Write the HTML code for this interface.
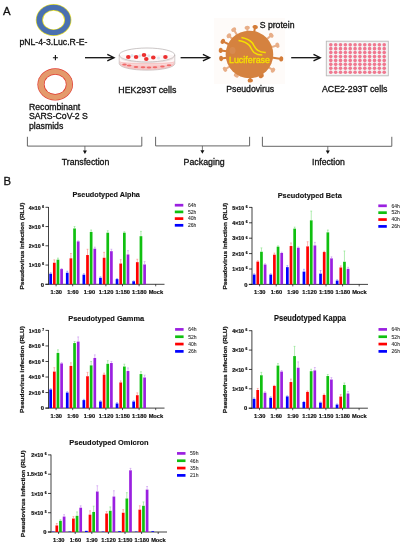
<!DOCTYPE html>
<html><head><meta charset="utf-8"><style>
html,body{margin:0;padding:0;background:#fff;}
body{width:403px;height:550px;overflow:hidden;}
svg{display:block;font-family:"Liberation Sans", sans-serif;will-change:transform;}
text{stroke-width:0.22px;}
</style></head><body>
<svg width="403" height="550" viewBox="0 0 403 550">
<rect width="403" height="550" fill="#fff"/>
<text x="3.00" y="14.90" font-size="11.4" font-weight="normal" fill="#111" stroke="#111" text-anchor="start" style="stroke-width:0.3px">A</text>
<ellipse cx="53.6" cy="20.0" rx="17.85" ry="16" fill="#e8e030"/>
<ellipse cx="53.6" cy="20.0" rx="17.1" ry="15.3" fill="#4a70b0"/>
<ellipse cx="53.6" cy="20.0" rx="11.4" ry="10.0" fill="#ebe22a"/>
<ellipse cx="53.6" cy="20.0" rx="10.6" ry="9.2" fill="#ffffff"/>
<text x="19.40" y="44.70" font-size="8.7" font-weight="normal" fill="#111" stroke="#111" text-anchor="start" style="stroke-width:0.3px">pNL-4-3.Luc.R-E-</text>
<path d="M52.9,57.7 H57.9 M55.4,55.1 V60.3" stroke="#111" stroke-width="1.1"/>
<ellipse cx="55.2" cy="84.4" rx="17.8" ry="16.2" fill="#e03a30"/>
<ellipse cx="55.2" cy="84.4" rx="17.1" ry="15.5" fill="#e49a6c"/>
<ellipse cx="55.2" cy="84.4" rx="11.3" ry="10.3" fill="#e03a30"/>
<ellipse cx="55.2" cy="84.4" rx="10.6" ry="9.6" fill="#ffffff"/>
<text x="29.00" y="109.80" font-size="8.7" font-weight="normal" fill="#111" stroke="#111" text-anchor="start" style="stroke-width:0.3px">Recombinant</text>
<text x="29.00" y="119.40" font-size="8.7" font-weight="normal" fill="#111" stroke="#111" text-anchor="start" style="stroke-width:0.3px">SARS-CoV-2 S</text>
<text x="29.00" y="128.50" font-size="8.7" font-weight="normal" fill="#111" stroke="#111" text-anchor="start" style="stroke-width:0.3px">plasmids</text>
<line x1="85" y1="57.7" x2="113.3" y2="57.7" stroke="#111" stroke-width="1.3"/>
<polyline points="107.3,54.300000000000004 114.1,57.7 107.3,60.900000000000006" fill="none" stroke="#111" stroke-width="1.3"/>
<line x1="180.6" y1="57.7" x2="208.89999999999998" y2="57.7" stroke="#111" stroke-width="1.3"/>
<polyline points="202.89999999999998,54.300000000000004 209.7,57.7 202.89999999999998,60.900000000000006" fill="none" stroke="#111" stroke-width="1.3"/>
<line x1="291.2" y1="57.7" x2="319.5" y2="57.7" stroke="#111" stroke-width="1.3"/>
<polyline points="313.5,54.300000000000004 320.3,57.7 313.5,60.900000000000006" fill="none" stroke="#111" stroke-width="1.3"/>
<path d="M119.2,55.0 L119.2,63.6 A27.8,6.6 0 0 0 174.8,63.6 L174.8,55.0 Z" fill="#fdf7f7"/>
<path d="M119.6,61.3 A27.4,1.8 0 0 0 174.4,61.3 L174.4,63.6 A27.4,6.4 0 0 1 119.6,63.6 Z" fill="#f7c6c6"/>
<path d="M120.5,62.8 A26.5,2.2 0 0 0 173.5,62.8" fill="none" stroke="#fbe6e6" stroke-width="0.7"/>
<ellipse cx="124.5" cy="64.5" rx="2.3" ry="1.0" fill="#ee4a4a" opacity="0.75"/>
<ellipse cx="129.2" cy="65.6" rx="2.3" ry="1.0" fill="#ee4a4a" opacity="0.75"/>
<ellipse cx="136" cy="66.9" rx="2.3" ry="1.0" fill="#ee4a4a" opacity="0.75"/>
<ellipse cx="143" cy="67.3" rx="2.3" ry="1.0" fill="#ee4a4a" opacity="0.75"/>
<ellipse cx="149" cy="67.4" rx="2.3" ry="1.0" fill="#ee4a4a" opacity="0.75"/>
<ellipse cx="155" cy="67.3" rx="2.3" ry="1.0" fill="#ee4a4a" opacity="0.75"/>
<ellipse cx="162.4" cy="66.6" rx="2.3" ry="1.0" fill="#ee4a4a" opacity="0.75"/>
<ellipse cx="169" cy="65.2" rx="2.3" ry="1.0" fill="#ee4a4a" opacity="0.75"/>
<path d="M119.2,55.0 L119.2,63.6 A27.8,6.6 0 0 0 174.8,63.6 L174.8,55.0" fill="none" stroke="#b0a4a4" stroke-width="0.55"/>
<ellipse cx="147" cy="55.0" rx="27.8" ry="7.0" fill="none" stroke="#a8a0a0" stroke-width="0.6"/>
<path d="M120.5,57.5 A26.5,5.0 0 0 0 173.5,57.5" fill="none" stroke="#d8c8c8" stroke-width="0.5"/>
<circle cx="148.9" cy="55.7" r="1.5" fill="#dde6ee"/>
<circle cx="158.5" cy="57.9" r="1.5" fill="#dde6ee"/>
<circle cx="139.8" cy="55.8" r="1.5" fill="#dde6ee"/>
<circle cx="132" cy="55.5" r="1.5" fill="#dde6ee"/>
<ellipse cx="128.3" cy="57.0" rx="2.3" ry="2.0" fill="#ec3030"/>
<ellipse cx="136.1" cy="57.0" rx="2.3" ry="2.0" fill="#ec3030"/>
<ellipse cx="144.0" cy="54.9" rx="2.3" ry="2.0" fill="#ec3030"/>
<ellipse cx="146.3" cy="59.0" rx="2.3" ry="2.0" fill="#ec3030"/>
<ellipse cx="153.3" cy="57.4" rx="2.3" ry="2.0" fill="#ec3030"/>
<ellipse cx="165.4" cy="57.0" rx="2.3" ry="2.0" fill="#ec3030"/>
<rect x="214" y="18" width="71" height="66" fill="#fefbf9"/>
<line x1="238.32" y1="36.88" x2="233.70" y2="29.60" stroke="#e8ae88" stroke-width="2.0"/>
<ellipse cx="233.70" cy="29.60" rx="2.0" ry="2.7" fill="#e8ae88" transform="rotate(-122.4 233.70 29.60)"/>
<line x1="234.08" y1="40.43" x2="228.90" y2="35.70" stroke="#e8ae88" stroke-width="2.0"/>
<ellipse cx="228.90" cy="35.70" rx="2.0" ry="2.7" fill="#e8ae88" transform="rotate(-137.6 228.90 35.70)"/>
<line x1="230.80" y1="45.25" x2="222.80" y2="41.30" stroke="#d47c38" stroke-width="2.0"/>
<ellipse cx="222.80" cy="41.30" rx="2.0" ry="2.7" fill="#d47c38" transform="rotate(-153.7 222.80 41.30)"/>
<line x1="228.85" y1="51.55" x2="220.70" y2="50.40" stroke="#d47c38" stroke-width="2.0"/>
<ellipse cx="220.70" cy="50.40" rx="2.0" ry="2.7" fill="#d47c38" transform="rotate(-172.0 220.70 50.40)"/>
<line x1="247.70" y1="33.72" x2="247.20" y2="27.80" stroke="#e8ae88" stroke-width="2.0"/>
<ellipse cx="247.20" cy="27.80" rx="2.0" ry="2.7" fill="#e8ae88" transform="rotate(-94.8 247.20 27.80)"/>
<line x1="253.71" y1="34.09" x2="255.20" y2="27.00" stroke="#d47c38" stroke-width="2.0"/>
<ellipse cx="255.20" cy="27.00" rx="2.0" ry="2.7" fill="#d47c38" transform="rotate(-78.2 255.20 27.00)"/>
<line x1="265.06" y1="40.70" x2="271.30" y2="35.20" stroke="#e8ae88" stroke-width="2.0"/>
<ellipse cx="271.30" cy="35.20" rx="2.0" ry="2.7" fill="#e8ae88" transform="rotate(-41.4 271.30 35.20)"/>
<line x1="269.20" y1="47.91" x2="277.40" y2="45.20" stroke="#e8ae88" stroke-width="2.0"/>
<ellipse cx="277.40" cy="45.20" rx="2.0" ry="2.7" fill="#e8ae88" transform="rotate(-18.3 277.40 45.20)"/>
<line x1="228.86" y1="57.39" x2="221.10" y2="58.50" stroke="#d47c38" stroke-width="2.0"/>
<ellipse cx="221.10" cy="58.50" rx="2.0" ry="2.7" fill="#d47c38" transform="rotate(171.9 221.10 58.50)"/>
<line x1="231.67" y1="65.25" x2="225.00" y2="69.30" stroke="#e8ae88" stroke-width="2.0"/>
<ellipse cx="225.00" cy="69.30" rx="2.0" ry="2.7" fill="#e8ae88" transform="rotate(148.7 225.00 69.30)"/>
<line x1="238.39" y1="72.07" x2="236.30" y2="75.40" stroke="#e8ae88" stroke-width="2.0"/>
<ellipse cx="236.30" cy="75.40" rx="2.0" ry="2.7" fill="#e8ae88" transform="rotate(122.1 236.30 75.40)"/>
<line x1="250.13" y1="75.24" x2="250.30" y2="80.60" stroke="#d47c38" stroke-width="2.0"/>
<ellipse cx="250.30" cy="80.60" rx="2.0" ry="2.7" fill="#d47c38" transform="rotate(88.1 250.30 80.60)"/>
<line x1="259.51" y1="72.66" x2="261.30" y2="75.90" stroke="#d47c38" stroke-width="2.0"/>
<ellipse cx="261.30" cy="75.90" rx="2.0" ry="2.7" fill="#d47c38" transform="rotate(61.1 261.30 75.90)"/>
<line x1="266.74" y1="66.01" x2="273.00" y2="70.20" stroke="#e8ae88" stroke-width="2.0"/>
<ellipse cx="273.00" cy="70.20" rx="2.0" ry="2.7" fill="#e8ae88" transform="rotate(33.8 273.00 70.20)"/>
<line x1="270.05" y1="57.33" x2="281.30" y2="58.90" stroke="#d47c38" stroke-width="2.0"/>
<ellipse cx="281.30" cy="58.90" rx="2.0" ry="2.7" fill="#d47c38" transform="rotate(8.0 281.30 58.90)"/>
<circle cx="249.45" cy="54.45" r="23.8" fill="#d5823f"/>
<ellipse cx="232.5" cy="50.5" rx="3" ry="3.6" fill="#dc9a6c" opacity="0.35"/>
<path d="M241.4,37.5 C246,38.3 250,40 252.4,43 C254,45.5 255,48.5 257.8,50.4 C260,52 263,52.5 265.8,52.4" fill="none" stroke="#f5e000" stroke-width="1.5"/>
<path d="M238.5,40.4 C242.5,41 247,42.5 249.5,45.5 C251,47.5 251.5,50 254,52.5 C256.5,54.5 259.5,55 262.3,55" fill="none" stroke="#f5e000" stroke-width="1.5"/>
<text x="229.00" y="63.40" font-size="8.9" font-weight="normal" fill="#f5e000" stroke="#f5e000" text-anchor="start" style="stroke-width:0.3px">Luciferase</text>
<text x="259.70" y="27.60" font-size="8.7" font-weight="normal" fill="#111" stroke="#111" text-anchor="start" style="stroke-width:0.3px">S protein</text>
<rect x="326.3" y="41.2" width="62" height="34.6" fill="#f4f4f4" stroke="#b8b8b8" stroke-width="0.9"/>
<circle cx="330.80" cy="44.70" r="1.8" fill="#f07890"/>
<circle cx="335.66" cy="44.70" r="1.8" fill="#f07890"/>
<circle cx="340.51" cy="44.70" r="1.8" fill="#f07890"/>
<circle cx="345.37" cy="44.70" r="1.8" fill="#f07890"/>
<circle cx="350.22" cy="44.70" r="1.8" fill="#f07890"/>
<circle cx="355.07" cy="44.70" r="1.8" fill="#f07890"/>
<circle cx="359.93" cy="44.70" r="1.8" fill="#f07890"/>
<circle cx="364.79" cy="44.70" r="1.8" fill="#f07890"/>
<circle cx="369.64" cy="44.70" r="1.8" fill="#f07890"/>
<circle cx="374.50" cy="44.70" r="1.8" fill="#f07890"/>
<circle cx="379.35" cy="44.70" r="1.8" fill="#f07890"/>
<circle cx="384.21" cy="44.70" r="1.8" fill="#f07890"/>
<circle cx="330.80" cy="48.63" r="1.8" fill="#f07890"/>
<circle cx="335.66" cy="48.63" r="1.8" fill="#f07890"/>
<circle cx="340.51" cy="48.63" r="1.8" fill="#f07890"/>
<circle cx="345.37" cy="48.63" r="1.8" fill="#f07890"/>
<circle cx="350.22" cy="48.63" r="1.8" fill="#f07890"/>
<circle cx="355.07" cy="48.63" r="1.8" fill="#f07890"/>
<circle cx="359.93" cy="48.63" r="1.8" fill="#f07890"/>
<circle cx="364.79" cy="48.63" r="1.8" fill="#f07890"/>
<circle cx="369.64" cy="48.63" r="1.8" fill="#f07890"/>
<circle cx="374.50" cy="48.63" r="1.8" fill="#f07890"/>
<circle cx="379.35" cy="48.63" r="1.8" fill="#f07890"/>
<circle cx="384.21" cy="48.63" r="1.8" fill="#f07890"/>
<circle cx="330.80" cy="52.56" r="1.8" fill="#f07890"/>
<circle cx="335.66" cy="52.56" r="1.8" fill="#f07890"/>
<circle cx="340.51" cy="52.56" r="1.8" fill="#f07890"/>
<circle cx="345.37" cy="52.56" r="1.8" fill="#f07890"/>
<circle cx="350.22" cy="52.56" r="1.8" fill="#f07890"/>
<circle cx="355.07" cy="52.56" r="1.8" fill="#f07890"/>
<circle cx="359.93" cy="52.56" r="1.8" fill="#f07890"/>
<circle cx="364.79" cy="52.56" r="1.8" fill="#f07890"/>
<circle cx="369.64" cy="52.56" r="1.8" fill="#f07890"/>
<circle cx="374.50" cy="52.56" r="1.8" fill="#f07890"/>
<circle cx="379.35" cy="52.56" r="1.8" fill="#f07890"/>
<circle cx="384.21" cy="52.56" r="1.8" fill="#f07890"/>
<circle cx="330.80" cy="56.49" r="1.8" fill="#f07890"/>
<circle cx="335.66" cy="56.49" r="1.8" fill="#f07890"/>
<circle cx="340.51" cy="56.49" r="1.8" fill="#f07890"/>
<circle cx="345.37" cy="56.49" r="1.8" fill="#f07890"/>
<circle cx="350.22" cy="56.49" r="1.8" fill="#f07890"/>
<circle cx="355.07" cy="56.49" r="1.8" fill="#f07890"/>
<circle cx="359.93" cy="56.49" r="1.8" fill="#f07890"/>
<circle cx="364.79" cy="56.49" r="1.8" fill="#f07890"/>
<circle cx="369.64" cy="56.49" r="1.8" fill="#f07890"/>
<circle cx="374.50" cy="56.49" r="1.8" fill="#f07890"/>
<circle cx="379.35" cy="56.49" r="1.8" fill="#f07890"/>
<circle cx="384.21" cy="56.49" r="1.8" fill="#f07890"/>
<circle cx="330.80" cy="60.42" r="1.8" fill="#f07890"/>
<circle cx="335.66" cy="60.42" r="1.8" fill="#f07890"/>
<circle cx="340.51" cy="60.42" r="1.8" fill="#f07890"/>
<circle cx="345.37" cy="60.42" r="1.8" fill="#f07890"/>
<circle cx="350.22" cy="60.42" r="1.8" fill="#f07890"/>
<circle cx="355.07" cy="60.42" r="1.8" fill="#f07890"/>
<circle cx="359.93" cy="60.42" r="1.8" fill="#f07890"/>
<circle cx="364.79" cy="60.42" r="1.8" fill="#f07890"/>
<circle cx="369.64" cy="60.42" r="1.8" fill="#f07890"/>
<circle cx="374.50" cy="60.42" r="1.8" fill="#f07890"/>
<circle cx="379.35" cy="60.42" r="1.8" fill="#f07890"/>
<circle cx="384.21" cy="60.42" r="1.8" fill="#f07890"/>
<circle cx="330.80" cy="64.35" r="1.8" fill="#f07890"/>
<circle cx="335.66" cy="64.35" r="1.8" fill="#f07890"/>
<circle cx="340.51" cy="64.35" r="1.8" fill="#f07890"/>
<circle cx="345.37" cy="64.35" r="1.8" fill="#f07890"/>
<circle cx="350.22" cy="64.35" r="1.8" fill="#f07890"/>
<circle cx="355.07" cy="64.35" r="1.8" fill="#f07890"/>
<circle cx="359.93" cy="64.35" r="1.8" fill="#f07890"/>
<circle cx="364.79" cy="64.35" r="1.8" fill="#f07890"/>
<circle cx="369.64" cy="64.35" r="1.8" fill="#f07890"/>
<circle cx="374.50" cy="64.35" r="1.8" fill="#f07890"/>
<circle cx="379.35" cy="64.35" r="1.8" fill="#f07890"/>
<circle cx="384.21" cy="64.35" r="1.8" fill="#f07890"/>
<circle cx="330.80" cy="68.28" r="1.8" fill="#f07890"/>
<circle cx="335.66" cy="68.28" r="1.8" fill="#f07890"/>
<circle cx="340.51" cy="68.28" r="1.8" fill="#f07890"/>
<circle cx="345.37" cy="68.28" r="1.8" fill="#f07890"/>
<circle cx="350.22" cy="68.28" r="1.8" fill="#f07890"/>
<circle cx="355.07" cy="68.28" r="1.8" fill="#f07890"/>
<circle cx="359.93" cy="68.28" r="1.8" fill="#f07890"/>
<circle cx="364.79" cy="68.28" r="1.8" fill="#f07890"/>
<circle cx="369.64" cy="68.28" r="1.8" fill="#f07890"/>
<circle cx="374.50" cy="68.28" r="1.8" fill="#f07890"/>
<circle cx="379.35" cy="68.28" r="1.8" fill="#f07890"/>
<circle cx="384.21" cy="68.28" r="1.8" fill="#f07890"/>
<circle cx="330.80" cy="72.21" r="1.8" fill="#f07890"/>
<circle cx="335.66" cy="72.21" r="1.8" fill="#f07890"/>
<circle cx="340.51" cy="72.21" r="1.8" fill="#f07890"/>
<circle cx="345.37" cy="72.21" r="1.8" fill="#f07890"/>
<circle cx="350.22" cy="72.21" r="1.8" fill="#f07890"/>
<circle cx="355.07" cy="72.21" r="1.8" fill="#f07890"/>
<circle cx="359.93" cy="72.21" r="1.8" fill="#f07890"/>
<circle cx="364.79" cy="72.21" r="1.8" fill="#f07890"/>
<circle cx="369.64" cy="72.21" r="1.8" fill="#f07890"/>
<circle cx="374.50" cy="72.21" r="1.8" fill="#f07890"/>
<circle cx="379.35" cy="72.21" r="1.8" fill="#f07890"/>
<circle cx="384.21" cy="72.21" r="1.8" fill="#f07890"/>
<text x="118.30" y="92.50" font-size="8.8" font-weight="normal" fill="#111" stroke="#111" text-anchor="start" style="stroke-width:0.3px">HEK293T cells</text>
<text x="226.30" y="92.00" font-size="8.7" font-weight="normal" fill="#111" stroke="#111" text-anchor="start" style="stroke-width:0.3px">Pseudovirus</text>
<text x="322.00" y="92.40" font-size="8.75" font-weight="normal" fill="#111" stroke="#111" text-anchor="start" style="stroke-width:0.3px">ACE2-293T cells</text>
<polyline points="27.4,136.8 27.4,146.1 141.8,146.1 141.8,136.8" fill="none" stroke="#555" stroke-width="0.9"/>
<line x1="84.9" y1="146.1" x2="84.9" y2="151.1" stroke="#555" stroke-width="0.8"/>
<polygon points="82.9,150.6 86.9,150.6 84.9,154.1" fill="#111"/>
<polyline points="155.6,136.8 155.6,145.9 249.6,145.9 249.6,136.8" fill="none" stroke="#555" stroke-width="0.9"/>
<line x1="202.4" y1="145.9" x2="202.4" y2="150.79999999999998" stroke="#555" stroke-width="0.8"/>
<polygon points="200.4,150.29999999999998 204.4,150.29999999999998 202.4,153.79999999999998" fill="#111"/>
<polyline points="262.4,136.8 262.4,146.3 391.8,146.3 391.8,136.8" fill="none" stroke="#555" stroke-width="0.9"/>
<line x1="327.8" y1="146.3" x2="327.8" y2="151.1" stroke="#555" stroke-width="0.8"/>
<polygon points="325.8,150.6 329.8,150.6 327.8,154.1" fill="#111"/>
<text x="61.80" y="165.00" font-size="8.7" font-weight="normal" fill="#111" stroke="#111" text-anchor="start" style="stroke-width:0.3px">Transfection</text>
<text x="183.60" y="164.90" font-size="8.8" font-weight="normal" fill="#111" stroke="#111" text-anchor="start" style="stroke-width:0.3px">Packaging</text>
<text x="312.00" y="164.90" font-size="8.7" font-weight="normal" fill="#111" stroke="#111" text-anchor="start" style="stroke-width:0.3px">Infection</text>
<text x="3.60" y="184.60" font-size="11.3" font-weight="normal" fill="#111" stroke="#111" text-anchor="start" style="stroke-width:0.3px">B</text>
<text transform="translate(106.2,197.3) scale(1,1.0)" x="0" y="0" font-size="7.25" font-weight="bold" fill="#111" stroke="#111" style="stroke-width:0.12px" text-anchor="middle">Pseudotyped Alpha</text>
<text transform="translate(24.0,246.10000000000002) rotate(-90)" font-size="5.1" font-weight="bold" fill="#111" stroke="#111" style="stroke-width:0.2px" text-anchor="middle" textLength="86.8" lengthAdjust="spacingAndGlyphs">Pseudovirus infection (RLU)</text>
<line x1="48.5" y1="207.0" x2="48.5" y2="284.7" stroke="#111" stroke-width="0.8"/>
<line x1="45.5" y1="284.30" x2="48.5" y2="284.30" stroke="#111" stroke-width="0.8"/>
<text x="43.9" y="286.50" font-size="5.8" font-weight="bold" fill="#111" stroke="#111" text-anchor="end">0</text>
<line x1="45.5" y1="265.05" x2="48.5" y2="265.05" stroke="#111" stroke-width="0.8"/>
<text x="44.0" y="265.35" font-size="3.3" font-weight="bold" fill="#111" stroke="#111" text-anchor="end">6</text>
<text x="40.6" y="267.25" font-size="5.8" font-weight="bold" fill="#111" stroke="#111" text-anchor="end" textLength="11.8" lengthAdjust="spacingAndGlyphs">1×10</text>
<line x1="45.5" y1="245.80" x2="48.5" y2="245.80" stroke="#111" stroke-width="0.8"/>
<text x="44.0" y="246.10" font-size="3.3" font-weight="bold" fill="#111" stroke="#111" text-anchor="end">6</text>
<text x="40.6" y="248.00" font-size="5.8" font-weight="bold" fill="#111" stroke="#111" text-anchor="end" textLength="11.8" lengthAdjust="spacingAndGlyphs">2×10</text>
<line x1="45.5" y1="226.55" x2="48.5" y2="226.55" stroke="#111" stroke-width="0.8"/>
<text x="44.0" y="226.85" font-size="3.3" font-weight="bold" fill="#111" stroke="#111" text-anchor="end">6</text>
<text x="40.6" y="228.75" font-size="5.8" font-weight="bold" fill="#111" stroke="#111" text-anchor="end" textLength="11.8" lengthAdjust="spacingAndGlyphs">3×10</text>
<line x1="45.5" y1="207.30" x2="48.5" y2="207.30" stroke="#111" stroke-width="0.8"/>
<text x="44.0" y="207.60" font-size="3.3" font-weight="bold" fill="#111" stroke="#111" text-anchor="end">6</text>
<text x="40.6" y="209.50" font-size="5.8" font-weight="bold" fill="#111" stroke="#111" text-anchor="end" textLength="11.8" lengthAdjust="spacingAndGlyphs">4×10</text>
<line x1="45.3" y1="284.3" x2="164.5" y2="284.3" stroke="#111" stroke-width="0.8"/>
<line x1="56.10" y1="284.3" x2="56.10" y2="286.3" stroke="#111" stroke-width="0.7"/>
<text x="56.30" y="294.30" font-size="5.7" font-weight="bold" fill="#111" stroke="#111" style="stroke-width:0.18px" text-anchor="middle">1:30</text>
<rect x="49.30" y="273.71" width="2.7" height="10.59" fill="#0000ff"/>
<line x1="50.65" y1="273.71" x2="50.65" y2="272.75" stroke="#8080ff" stroke-width="0.6"/>
<line x1="49.75" y1="272.75" x2="51.55" y2="272.75" stroke="#8080ff" stroke-width="0.6"/>
<rect x="52.95" y="262.74" width="2.7" height="21.56" fill="#ff0000"/>
<line x1="54.30" y1="262.74" x2="54.30" y2="259.85" stroke="#ff8080" stroke-width="0.6"/>
<line x1="53.40" y1="259.85" x2="55.20" y2="259.85" stroke="#ff8080" stroke-width="0.6"/>
<rect x="56.60" y="259.66" width="2.7" height="24.64" fill="#10c010"/>
<line x1="57.95" y1="259.66" x2="57.95" y2="258.12" stroke="#80e080" stroke-width="0.6"/>
<line x1="57.05" y1="258.12" x2="58.85" y2="258.12" stroke="#80e080" stroke-width="0.6"/>
<rect x="60.25" y="269.09" width="2.7" height="15.21" fill="#9a20e0"/>
<line x1="61.60" y1="269.09" x2="61.60" y2="268.52" stroke="#c890f0" stroke-width="0.6"/>
<line x1="60.70" y1="268.52" x2="62.50" y2="268.52" stroke="#c890f0" stroke-width="0.6"/>
<line x1="72.70" y1="284.3" x2="72.70" y2="286.3" stroke="#111" stroke-width="0.7"/>
<text x="72.90" y="294.30" font-size="5.7" font-weight="bold" fill="#111" stroke="#111" style="stroke-width:0.18px" text-anchor="middle">1:60</text>
<rect x="65.90" y="272.75" width="2.7" height="11.55" fill="#0000ff"/>
<line x1="67.25" y1="272.75" x2="67.25" y2="271.21" stroke="#8080ff" stroke-width="0.6"/>
<line x1="66.35" y1="271.21" x2="68.15" y2="271.21" stroke="#8080ff" stroke-width="0.6"/>
<rect x="69.55" y="258.31" width="2.7" height="25.99" fill="#ff0000"/>
<line x1="70.90" y1="258.31" x2="70.90" y2="253.50" stroke="#ff8080" stroke-width="0.6"/>
<line x1="70.00" y1="253.50" x2="71.80" y2="253.50" stroke="#ff8080" stroke-width="0.6"/>
<rect x="73.20" y="228.48" width="2.7" height="55.83" fill="#10c010"/>
<line x1="74.55" y1="228.48" x2="74.55" y2="226.55" stroke="#80e080" stroke-width="0.6"/>
<line x1="73.65" y1="226.55" x2="75.45" y2="226.55" stroke="#80e080" stroke-width="0.6"/>
<rect x="76.85" y="241.37" width="2.7" height="42.93" fill="#9a20e0"/>
<line x1="78.20" y1="241.37" x2="78.20" y2="240.80" stroke="#c890f0" stroke-width="0.6"/>
<line x1="77.30" y1="240.80" x2="79.10" y2="240.80" stroke="#c890f0" stroke-width="0.6"/>
<line x1="89.30" y1="284.3" x2="89.30" y2="286.3" stroke="#111" stroke-width="0.7"/>
<text x="89.50" y="294.30" font-size="5.7" font-weight="bold" fill="#111" stroke="#111" style="stroke-width:0.18px" text-anchor="middle">1:90</text>
<rect x="82.50" y="274.68" width="2.7" height="9.62" fill="#0000ff"/>
<line x1="83.85" y1="274.68" x2="83.85" y2="273.71" stroke="#8080ff" stroke-width="0.6"/>
<line x1="82.95" y1="273.71" x2="84.75" y2="273.71" stroke="#8080ff" stroke-width="0.6"/>
<rect x="86.15" y="255.04" width="2.7" height="29.26" fill="#ff0000"/>
<line x1="87.50" y1="255.04" x2="87.50" y2="249.27" stroke="#ff8080" stroke-width="0.6"/>
<line x1="86.60" y1="249.27" x2="88.40" y2="249.27" stroke="#ff8080" stroke-width="0.6"/>
<rect x="89.80" y="231.94" width="2.7" height="52.36" fill="#10c010"/>
<line x1="91.15" y1="231.94" x2="91.15" y2="230.01" stroke="#80e080" stroke-width="0.6"/>
<line x1="90.25" y1="230.01" x2="92.05" y2="230.01" stroke="#80e080" stroke-width="0.6"/>
<rect x="93.45" y="248.69" width="2.7" height="35.61" fill="#9a20e0"/>
<line x1="94.80" y1="248.69" x2="94.80" y2="247.15" stroke="#c890f0" stroke-width="0.6"/>
<line x1="93.90" y1="247.15" x2="95.70" y2="247.15" stroke="#c890f0" stroke-width="0.6"/>
<line x1="105.90" y1="284.3" x2="105.90" y2="286.3" stroke="#111" stroke-width="0.7"/>
<text x="106.10" y="294.30" font-size="5.7" font-weight="bold" fill="#111" stroke="#111" style="stroke-width:0.18px" text-anchor="middle">1:120</text>
<rect x="99.10" y="277.75" width="2.7" height="6.54" fill="#0000ff"/>
<line x1="100.45" y1="277.75" x2="100.45" y2="276.79" stroke="#8080ff" stroke-width="0.6"/>
<line x1="99.55" y1="276.79" x2="101.35" y2="276.79" stroke="#8080ff" stroke-width="0.6"/>
<rect x="102.75" y="257.74" width="2.7" height="26.57" fill="#ff0000"/>
<line x1="104.10" y1="257.74" x2="104.10" y2="252.35" stroke="#ff8080" stroke-width="0.6"/>
<line x1="103.20" y1="252.35" x2="105.00" y2="252.35" stroke="#ff8080" stroke-width="0.6"/>
<rect x="106.40" y="232.71" width="2.7" height="51.59" fill="#10c010"/>
<line x1="107.75" y1="232.71" x2="107.75" y2="230.78" stroke="#80e080" stroke-width="0.6"/>
<line x1="106.85" y1="230.78" x2="108.65" y2="230.78" stroke="#80e080" stroke-width="0.6"/>
<rect x="110.05" y="251.19" width="2.7" height="33.11" fill="#9a20e0"/>
<line x1="111.40" y1="251.19" x2="111.40" y2="249.26" stroke="#c890f0" stroke-width="0.6"/>
<line x1="110.50" y1="249.26" x2="112.30" y2="249.26" stroke="#c890f0" stroke-width="0.6"/>
<line x1="122.50" y1="284.3" x2="122.50" y2="286.3" stroke="#111" stroke-width="0.7"/>
<text x="122.70" y="294.30" font-size="5.7" font-weight="bold" fill="#111" stroke="#111" style="stroke-width:0.18px" text-anchor="middle">1:150</text>
<rect x="115.70" y="279.10" width="2.7" height="5.20" fill="#0000ff"/>
<line x1="117.05" y1="279.10" x2="117.05" y2="278.53" stroke="#8080ff" stroke-width="0.6"/>
<line x1="116.15" y1="278.53" x2="117.95" y2="278.53" stroke="#8080ff" stroke-width="0.6"/>
<rect x="119.35" y="263.51" width="2.7" height="20.79" fill="#ff0000"/>
<line x1="120.70" y1="263.51" x2="120.70" y2="259.66" stroke="#ff8080" stroke-width="0.6"/>
<line x1="119.80" y1="259.66" x2="121.60" y2="259.66" stroke="#ff8080" stroke-width="0.6"/>
<rect x="123.00" y="232.71" width="2.7" height="51.59" fill="#10c010"/>
<line x1="124.35" y1="232.71" x2="124.35" y2="231.75" stroke="#80e080" stroke-width="0.6"/>
<line x1="123.45" y1="231.75" x2="125.25" y2="231.75" stroke="#80e080" stroke-width="0.6"/>
<rect x="126.65" y="254.46" width="2.7" height="29.84" fill="#9a20e0"/>
<line x1="128.00" y1="254.46" x2="128.00" y2="250.61" stroke="#c890f0" stroke-width="0.6"/>
<line x1="127.10" y1="250.61" x2="128.90" y2="250.61" stroke="#c890f0" stroke-width="0.6"/>
<line x1="139.10" y1="284.3" x2="139.10" y2="286.3" stroke="#111" stroke-width="0.7"/>
<text x="139.30" y="294.30" font-size="5.7" font-weight="bold" fill="#111" stroke="#111" style="stroke-width:0.18px" text-anchor="middle">1:180</text>
<rect x="132.30" y="281.22" width="2.7" height="3.08" fill="#0000ff"/>
<line x1="133.65" y1="281.22" x2="133.65" y2="280.84" stroke="#8080ff" stroke-width="0.6"/>
<line x1="132.75" y1="280.84" x2="134.55" y2="280.84" stroke="#8080ff" stroke-width="0.6"/>
<rect x="135.95" y="262.16" width="2.7" height="22.14" fill="#ff0000"/>
<line x1="137.30" y1="262.16" x2="137.30" y2="259.28" stroke="#ff8080" stroke-width="0.6"/>
<line x1="136.40" y1="259.28" x2="138.20" y2="259.28" stroke="#ff8080" stroke-width="0.6"/>
<rect x="139.60" y="236.18" width="2.7" height="48.12" fill="#10c010"/>
<line x1="140.95" y1="236.18" x2="140.95" y2="231.36" stroke="#80e080" stroke-width="0.6"/>
<line x1="140.05" y1="231.36" x2="141.85" y2="231.36" stroke="#80e080" stroke-width="0.6"/>
<rect x="143.25" y="264.47" width="2.7" height="19.83" fill="#9a20e0"/>
<line x1="144.60" y1="264.47" x2="144.60" y2="261.59" stroke="#c890f0" stroke-width="0.6"/>
<line x1="143.70" y1="261.59" x2="145.50" y2="261.59" stroke="#c890f0" stroke-width="0.6"/>
<line x1="155.70" y1="284.3" x2="155.70" y2="286.3" stroke="#111" stroke-width="0.7"/>
<text x="155.90" y="294.30" font-size="5.7" font-weight="bold" fill="#111" stroke="#111" style="stroke-width:0.18px" text-anchor="middle">Mock</text>
<rect x="174.8" y="203.85" width="8.5" height="2.7" fill="#9a20e0"/>
<text x="187.9" y="207.00" font-size="5" fill="#333" stroke="#333" style="stroke-width:0.1px">64h</text>
<rect x="174.8" y="210.55" width="8.5" height="2.7" fill="#10c010"/>
<text x="187.9" y="213.70" font-size="5" fill="#333" stroke="#333" style="stroke-width:0.1px">52h</text>
<rect x="174.8" y="217.25" width="8.5" height="2.7" fill="#ff0000"/>
<text x="187.9" y="220.40" font-size="5" fill="#333" stroke="#333" style="stroke-width:0.1px">40h</text>
<rect x="174.8" y="223.95" width="8.5" height="2.7" fill="#0000ff"/>
<text x="187.9" y="227.10" font-size="5" fill="#333" stroke="#333" style="stroke-width:0.1px">26h</text>
<text transform="translate(309.7,197.6) scale(1,1.0)" x="0" y="0" font-size="7.35" font-weight="bold" fill="#111" stroke="#111" style="stroke-width:0.12px" text-anchor="middle">Pseudotyped Beta</text>
<text transform="translate(227.3,246.2) rotate(-90)" font-size="5.1" font-weight="bold" fill="#111" stroke="#111" style="stroke-width:0.2px" text-anchor="middle" textLength="86.8" lengthAdjust="spacingAndGlyphs">Pseudovirus infection (RLU)</text>
<line x1="252.0" y1="207.1" x2="252.0" y2="284.79999999999995" stroke="#111" stroke-width="0.8"/>
<line x1="249.0" y1="284.40" x2="252.0" y2="284.40" stroke="#111" stroke-width="0.8"/>
<text x="247.4" y="286.60" font-size="5.8" font-weight="bold" fill="#111" stroke="#111" text-anchor="end">0</text>
<line x1="249.0" y1="269.00" x2="252.0" y2="269.00" stroke="#111" stroke-width="0.8"/>
<text x="247.5" y="269.30" font-size="3.3" font-weight="bold" fill="#111" stroke="#111" text-anchor="end">6</text>
<text x="244.1" y="271.20" font-size="5.8" font-weight="bold" fill="#111" stroke="#111" text-anchor="end" textLength="11.8" lengthAdjust="spacingAndGlyphs">1×10</text>
<line x1="249.0" y1="253.60" x2="252.0" y2="253.60" stroke="#111" stroke-width="0.8"/>
<text x="247.5" y="253.90" font-size="3.3" font-weight="bold" fill="#111" stroke="#111" text-anchor="end">6</text>
<text x="244.1" y="255.80" font-size="5.8" font-weight="bold" fill="#111" stroke="#111" text-anchor="end" textLength="11.8" lengthAdjust="spacingAndGlyphs">2×10</text>
<line x1="249.0" y1="238.20" x2="252.0" y2="238.20" stroke="#111" stroke-width="0.8"/>
<text x="247.5" y="238.50" font-size="3.3" font-weight="bold" fill="#111" stroke="#111" text-anchor="end">6</text>
<text x="244.1" y="240.40" font-size="5.8" font-weight="bold" fill="#111" stroke="#111" text-anchor="end" textLength="11.8" lengthAdjust="spacingAndGlyphs">3×10</text>
<line x1="249.0" y1="222.80" x2="252.0" y2="222.80" stroke="#111" stroke-width="0.8"/>
<text x="247.5" y="223.10" font-size="3.3" font-weight="bold" fill="#111" stroke="#111" text-anchor="end">6</text>
<text x="244.1" y="225.00" font-size="5.8" font-weight="bold" fill="#111" stroke="#111" text-anchor="end" textLength="11.8" lengthAdjust="spacingAndGlyphs">4×10</text>
<line x1="249.0" y1="207.40" x2="252.0" y2="207.40" stroke="#111" stroke-width="0.8"/>
<text x="247.5" y="207.70" font-size="3.3" font-weight="bold" fill="#111" stroke="#111" text-anchor="end">6</text>
<text x="244.1" y="209.60" font-size="5.8" font-weight="bold" fill="#111" stroke="#111" text-anchor="end" textLength="11.8" lengthAdjust="spacingAndGlyphs">5×10</text>
<line x1="248.8" y1="284.4" x2="368.0" y2="284.4" stroke="#111" stroke-width="0.8"/>
<line x1="259.60" y1="284.4" x2="259.60" y2="286.4" stroke="#111" stroke-width="0.7"/>
<text x="259.80" y="294.40" font-size="5.7" font-weight="bold" fill="#111" stroke="#111" style="stroke-width:0.18px" text-anchor="middle">1:30</text>
<rect x="252.80" y="274.54" width="2.7" height="9.86" fill="#0000ff"/>
<line x1="254.15" y1="274.54" x2="254.15" y2="273.77" stroke="#8080ff" stroke-width="0.6"/>
<line x1="253.25" y1="273.77" x2="255.05" y2="273.77" stroke="#8080ff" stroke-width="0.6"/>
<rect x="256.45" y="261.61" width="2.7" height="22.79" fill="#ff0000"/>
<line x1="257.80" y1="261.61" x2="257.80" y2="260.84" stroke="#ff8080" stroke-width="0.6"/>
<line x1="256.90" y1="260.84" x2="258.70" y2="260.84" stroke="#ff8080" stroke-width="0.6"/>
<rect x="260.10" y="251.75" width="2.7" height="32.65" fill="#10c010"/>
<line x1="261.45" y1="251.75" x2="261.45" y2="247.90" stroke="#80e080" stroke-width="0.6"/>
<line x1="260.55" y1="247.90" x2="262.35" y2="247.90" stroke="#80e080" stroke-width="0.6"/>
<rect x="263.75" y="264.53" width="2.7" height="19.87" fill="#9a20e0"/>
<line x1="265.10" y1="264.53" x2="265.10" y2="263.76" stroke="#c890f0" stroke-width="0.6"/>
<line x1="264.20" y1="263.76" x2="266.00" y2="263.76" stroke="#c890f0" stroke-width="0.6"/>
<line x1="276.20" y1="284.4" x2="276.20" y2="286.4" stroke="#111" stroke-width="0.7"/>
<text x="276.40" y="294.40" font-size="5.7" font-weight="bold" fill="#111" stroke="#111" style="stroke-width:0.18px" text-anchor="middle">1:60</text>
<rect x="269.40" y="274.54" width="2.7" height="9.86" fill="#0000ff"/>
<line x1="270.75" y1="274.54" x2="270.75" y2="273.77" stroke="#8080ff" stroke-width="0.6"/>
<line x1="269.85" y1="273.77" x2="271.65" y2="273.77" stroke="#8080ff" stroke-width="0.6"/>
<rect x="273.05" y="254.68" width="2.7" height="29.72" fill="#ff0000"/>
<line x1="274.40" y1="254.68" x2="274.40" y2="253.14" stroke="#ff8080" stroke-width="0.6"/>
<line x1="273.50" y1="253.14" x2="275.30" y2="253.14" stroke="#ff8080" stroke-width="0.6"/>
<rect x="276.70" y="246.67" width="2.7" height="37.73" fill="#10c010"/>
<line x1="278.05" y1="246.67" x2="278.05" y2="245.90" stroke="#80e080" stroke-width="0.6"/>
<line x1="277.15" y1="245.90" x2="278.95" y2="245.90" stroke="#80e080" stroke-width="0.6"/>
<rect x="280.35" y="252.98" width="2.7" height="31.42" fill="#9a20e0"/>
<line x1="281.70" y1="252.98" x2="281.70" y2="252.21" stroke="#c890f0" stroke-width="0.6"/>
<line x1="280.80" y1="252.21" x2="282.60" y2="252.21" stroke="#c890f0" stroke-width="0.6"/>
<line x1="292.80" y1="284.4" x2="292.80" y2="286.4" stroke="#111" stroke-width="0.7"/>
<text x="293.00" y="294.40" font-size="5.7" font-weight="bold" fill="#111" stroke="#111" style="stroke-width:0.18px" text-anchor="middle">1:90</text>
<rect x="286.00" y="267.15" width="2.7" height="17.25" fill="#0000ff"/>
<line x1="287.35" y1="267.15" x2="287.35" y2="265.61" stroke="#8080ff" stroke-width="0.6"/>
<line x1="286.45" y1="265.61" x2="288.25" y2="265.61" stroke="#8080ff" stroke-width="0.6"/>
<rect x="289.65" y="246.05" width="2.7" height="38.35" fill="#ff0000"/>
<line x1="291.00" y1="246.05" x2="291.00" y2="242.97" stroke="#ff8080" stroke-width="0.6"/>
<line x1="290.10" y1="242.97" x2="291.90" y2="242.97" stroke="#ff8080" stroke-width="0.6"/>
<rect x="293.30" y="228.65" width="2.7" height="55.75" fill="#10c010"/>
<line x1="294.65" y1="228.65" x2="294.65" y2="227.11" stroke="#80e080" stroke-width="0.6"/>
<line x1="293.75" y1="227.11" x2="295.55" y2="227.11" stroke="#80e080" stroke-width="0.6"/>
<rect x="296.95" y="247.75" width="2.7" height="36.65" fill="#9a20e0"/>
<line x1="298.30" y1="247.75" x2="298.30" y2="246.98" stroke="#c890f0" stroke-width="0.6"/>
<line x1="297.40" y1="246.98" x2="299.20" y2="246.98" stroke="#c890f0" stroke-width="0.6"/>
<line x1="309.40" y1="284.4" x2="309.40" y2="286.4" stroke="#111" stroke-width="0.7"/>
<text x="309.60" y="294.40" font-size="5.7" font-weight="bold" fill="#111" stroke="#111" style="stroke-width:0.18px" text-anchor="middle">1:120</text>
<rect x="302.60" y="271.62" width="2.7" height="12.78" fill="#0000ff"/>
<line x1="303.95" y1="271.62" x2="303.95" y2="269.31" stroke="#8080ff" stroke-width="0.6"/>
<line x1="303.05" y1="269.31" x2="304.85" y2="269.31" stroke="#8080ff" stroke-width="0.6"/>
<rect x="306.25" y="246.36" width="2.7" height="38.04" fill="#ff0000"/>
<line x1="307.60" y1="246.36" x2="307.60" y2="241.74" stroke="#ff8080" stroke-width="0.6"/>
<line x1="306.70" y1="241.74" x2="308.50" y2="241.74" stroke="#ff8080" stroke-width="0.6"/>
<rect x="309.90" y="220.34" width="2.7" height="64.06" fill="#10c010"/>
<line x1="311.25" y1="220.34" x2="311.25" y2="211.10" stroke="#80e080" stroke-width="0.6"/>
<line x1="310.35" y1="211.10" x2="312.15" y2="211.10" stroke="#80e080" stroke-width="0.6"/>
<rect x="313.55" y="245.44" width="2.7" height="38.96" fill="#9a20e0"/>
<line x1="314.90" y1="245.44" x2="314.90" y2="242.36" stroke="#c890f0" stroke-width="0.6"/>
<line x1="314.00" y1="242.36" x2="315.80" y2="242.36" stroke="#c890f0" stroke-width="0.6"/>
<line x1="326.00" y1="284.4" x2="326.00" y2="286.4" stroke="#111" stroke-width="0.7"/>
<text x="326.20" y="294.40" font-size="5.7" font-weight="bold" fill="#111" stroke="#111" style="stroke-width:0.18px" text-anchor="middle">1:150</text>
<rect x="319.20" y="273.62" width="2.7" height="10.78" fill="#0000ff"/>
<line x1="320.55" y1="273.62" x2="320.55" y2="270.54" stroke="#8080ff" stroke-width="0.6"/>
<line x1="319.65" y1="270.54" x2="321.45" y2="270.54" stroke="#8080ff" stroke-width="0.6"/>
<rect x="322.85" y="252.06" width="2.7" height="32.34" fill="#ff0000"/>
<line x1="324.20" y1="252.06" x2="324.20" y2="251.29" stroke="#ff8080" stroke-width="0.6"/>
<line x1="323.30" y1="251.29" x2="325.10" y2="251.29" stroke="#ff8080" stroke-width="0.6"/>
<rect x="326.50" y="232.35" width="2.7" height="52.05" fill="#10c010"/>
<line x1="327.85" y1="232.35" x2="327.85" y2="230.04" stroke="#80e080" stroke-width="0.6"/>
<line x1="326.95" y1="230.04" x2="328.75" y2="230.04" stroke="#80e080" stroke-width="0.6"/>
<rect x="330.15" y="258.37" width="2.7" height="26.03" fill="#9a20e0"/>
<line x1="331.50" y1="258.37" x2="331.50" y2="256.83" stroke="#c890f0" stroke-width="0.6"/>
<line x1="330.60" y1="256.83" x2="332.40" y2="256.83" stroke="#c890f0" stroke-width="0.6"/>
<line x1="342.60" y1="284.4" x2="342.60" y2="286.4" stroke="#111" stroke-width="0.7"/>
<text x="342.80" y="294.40" font-size="5.7" font-weight="bold" fill="#111" stroke="#111" style="stroke-width:0.18px" text-anchor="middle">1:180</text>
<rect x="335.80" y="280.55" width="2.7" height="3.85" fill="#0000ff"/>
<line x1="337.15" y1="280.55" x2="337.15" y2="279.78" stroke="#8080ff" stroke-width="0.6"/>
<line x1="336.25" y1="279.78" x2="338.05" y2="279.78" stroke="#8080ff" stroke-width="0.6"/>
<rect x="339.45" y="267.46" width="2.7" height="16.94" fill="#ff0000"/>
<line x1="340.80" y1="267.46" x2="340.80" y2="265.92" stroke="#ff8080" stroke-width="0.6"/>
<line x1="339.90" y1="265.92" x2="341.70" y2="265.92" stroke="#ff8080" stroke-width="0.6"/>
<rect x="343.10" y="261.76" width="2.7" height="22.64" fill="#10c010"/>
<line x1="344.45" y1="261.76" x2="344.45" y2="250.98" stroke="#80e080" stroke-width="0.6"/>
<line x1="343.55" y1="250.98" x2="345.35" y2="250.98" stroke="#80e080" stroke-width="0.6"/>
<rect x="346.75" y="268.85" width="2.7" height="15.55" fill="#9a20e0"/>
<line x1="348.10" y1="268.85" x2="348.10" y2="267.31" stroke="#c890f0" stroke-width="0.6"/>
<line x1="347.20" y1="267.31" x2="349.00" y2="267.31" stroke="#c890f0" stroke-width="0.6"/>
<line x1="359.20" y1="284.4" x2="359.20" y2="286.4" stroke="#111" stroke-width="0.7"/>
<text x="359.40" y="294.40" font-size="5.7" font-weight="bold" fill="#111" stroke="#111" style="stroke-width:0.18px" text-anchor="middle">Mock</text>
<rect x="378.3" y="204.45" width="8.5" height="2.7" fill="#9a20e0"/>
<text x="391.40000000000003" y="207.60" font-size="5" fill="#333" stroke="#333" style="stroke-width:0.1px">64h</text>
<rect x="378.3" y="211.32" width="8.5" height="2.7" fill="#10c010"/>
<text x="391.40000000000003" y="214.47" font-size="5" fill="#333" stroke="#333" style="stroke-width:0.1px">52h</text>
<rect x="378.3" y="218.19" width="8.5" height="2.7" fill="#ff0000"/>
<text x="391.40000000000003" y="221.34" font-size="5" fill="#333" stroke="#333" style="stroke-width:0.1px">40h</text>
<rect x="378.3" y="225.06" width="8.5" height="2.7" fill="#0000ff"/>
<text x="391.40000000000003" y="228.21" font-size="5" fill="#333" stroke="#333" style="stroke-width:0.1px">26h</text>
<text transform="translate(106.2,321.0) scale(1,1.06)" x="0" y="0" font-size="7.45" font-weight="bold" fill="#111" stroke="#111" style="stroke-width:0.12px" text-anchor="middle">Pseudotyped Gamma</text>
<text transform="translate(24.0,369.55) rotate(-90)" font-size="5.1" font-weight="bold" fill="#111" stroke="#111" style="stroke-width:0.2px" text-anchor="middle" textLength="86.8" lengthAdjust="spacingAndGlyphs">Pseudovirus infection (RLU)</text>
<line x1="48.5" y1="330.09999999999997" x2="48.5" y2="408.5" stroke="#111" stroke-width="0.8"/>
<line x1="45.5" y1="408.10" x2="48.5" y2="408.10" stroke="#111" stroke-width="0.8"/>
<text x="43.9" y="410.30" font-size="5.8" font-weight="bold" fill="#111" stroke="#111" text-anchor="end">0</text>
<line x1="45.5" y1="392.56" x2="48.5" y2="392.56" stroke="#111" stroke-width="0.8"/>
<text x="44.0" y="392.86" font-size="3.3" font-weight="bold" fill="#111" stroke="#111" text-anchor="end">6</text>
<text x="40.6" y="394.76" font-size="5.8" font-weight="bold" fill="#111" stroke="#111" text-anchor="end" textLength="11.8" lengthAdjust="spacingAndGlyphs">2×10</text>
<line x1="45.5" y1="377.02" x2="48.5" y2="377.02" stroke="#111" stroke-width="0.8"/>
<text x="44.0" y="377.32" font-size="3.3" font-weight="bold" fill="#111" stroke="#111" text-anchor="end">6</text>
<text x="40.6" y="379.22" font-size="5.8" font-weight="bold" fill="#111" stroke="#111" text-anchor="end" textLength="11.8" lengthAdjust="spacingAndGlyphs">4×10</text>
<line x1="45.5" y1="361.48" x2="48.5" y2="361.48" stroke="#111" stroke-width="0.8"/>
<text x="44.0" y="361.78" font-size="3.3" font-weight="bold" fill="#111" stroke="#111" text-anchor="end">6</text>
<text x="40.6" y="363.68" font-size="5.8" font-weight="bold" fill="#111" stroke="#111" text-anchor="end" textLength="11.8" lengthAdjust="spacingAndGlyphs">6×10</text>
<line x1="45.5" y1="345.94" x2="48.5" y2="345.94" stroke="#111" stroke-width="0.8"/>
<text x="44.0" y="346.24" font-size="3.3" font-weight="bold" fill="#111" stroke="#111" text-anchor="end">6</text>
<text x="40.6" y="348.14" font-size="5.8" font-weight="bold" fill="#111" stroke="#111" text-anchor="end" textLength="11.8" lengthAdjust="spacingAndGlyphs">8×10</text>
<line x1="45.5" y1="330.40" x2="48.5" y2="330.40" stroke="#111" stroke-width="0.8"/>
<text x="44.0" y="330.70" font-size="3.3" font-weight="bold" fill="#111" stroke="#111" text-anchor="end">7</text>
<text x="40.6" y="332.60" font-size="5.8" font-weight="bold" fill="#111" stroke="#111" text-anchor="end" textLength="11.8" lengthAdjust="spacingAndGlyphs">1×10</text>
<line x1="45.3" y1="408.1" x2="164.5" y2="408.1" stroke="#111" stroke-width="0.8"/>
<line x1="56.10" y1="408.1" x2="56.10" y2="410.1" stroke="#111" stroke-width="0.7"/>
<text x="56.30" y="418.10" font-size="5.7" font-weight="bold" fill="#111" stroke="#111" style="stroke-width:0.18px" text-anchor="middle">1:30</text>
<rect x="49.30" y="389.45" width="2.7" height="18.65" fill="#0000ff"/>
<line x1="50.65" y1="389.45" x2="50.65" y2="388.68" stroke="#8080ff" stroke-width="0.6"/>
<line x1="49.75" y1="388.68" x2="51.55" y2="388.68" stroke="#8080ff" stroke-width="0.6"/>
<rect x="52.95" y="371.58" width="2.7" height="36.52" fill="#ff0000"/>
<line x1="54.30" y1="371.58" x2="54.30" y2="367.70" stroke="#ff8080" stroke-width="0.6"/>
<line x1="53.40" y1="367.70" x2="55.20" y2="367.70" stroke="#ff8080" stroke-width="0.6"/>
<rect x="56.60" y="352.93" width="2.7" height="55.17" fill="#10c010"/>
<line x1="57.95" y1="352.93" x2="57.95" y2="349.82" stroke="#80e080" stroke-width="0.6"/>
<line x1="57.05" y1="349.82" x2="58.85" y2="349.82" stroke="#80e080" stroke-width="0.6"/>
<rect x="60.25" y="363.42" width="2.7" height="44.68" fill="#9a20e0"/>
<line x1="61.60" y1="363.42" x2="61.60" y2="362.65" stroke="#c890f0" stroke-width="0.6"/>
<line x1="60.70" y1="362.65" x2="62.50" y2="362.65" stroke="#c890f0" stroke-width="0.6"/>
<line x1="72.70" y1="408.1" x2="72.70" y2="410.1" stroke="#111" stroke-width="0.7"/>
<text x="72.90" y="418.10" font-size="5.7" font-weight="bold" fill="#111" stroke="#111" style="stroke-width:0.18px" text-anchor="middle">1:60</text>
<rect x="65.90" y="392.56" width="2.7" height="15.54" fill="#0000ff"/>
<line x1="67.25" y1="392.56" x2="67.25" y2="391.78" stroke="#8080ff" stroke-width="0.6"/>
<line x1="66.35" y1="391.78" x2="68.15" y2="391.78" stroke="#8080ff" stroke-width="0.6"/>
<rect x="69.55" y="365.91" width="2.7" height="42.19" fill="#ff0000"/>
<line x1="70.90" y1="365.91" x2="70.90" y2="362.80" stroke="#ff8080" stroke-width="0.6"/>
<line x1="70.00" y1="362.80" x2="71.80" y2="362.80" stroke="#ff8080" stroke-width="0.6"/>
<rect x="73.20" y="343.07" width="2.7" height="65.03" fill="#10c010"/>
<line x1="74.55" y1="343.07" x2="74.55" y2="341.51" stroke="#80e080" stroke-width="0.6"/>
<line x1="73.65" y1="341.51" x2="75.45" y2="341.51" stroke="#80e080" stroke-width="0.6"/>
<rect x="76.85" y="341.59" width="2.7" height="66.51" fill="#9a20e0"/>
<line x1="78.20" y1="341.59" x2="78.20" y2="336.93" stroke="#c890f0" stroke-width="0.6"/>
<line x1="77.30" y1="336.93" x2="79.10" y2="336.93" stroke="#c890f0" stroke-width="0.6"/>
<line x1="89.30" y1="408.1" x2="89.30" y2="410.1" stroke="#111" stroke-width="0.7"/>
<text x="89.50" y="418.10" font-size="5.7" font-weight="bold" fill="#111" stroke="#111" style="stroke-width:0.18px" text-anchor="middle">1:90</text>
<rect x="82.50" y="400.10" width="2.7" height="8.00" fill="#0000ff"/>
<line x1="83.85" y1="400.10" x2="83.85" y2="399.32" stroke="#8080ff" stroke-width="0.6"/>
<line x1="82.95" y1="399.32" x2="84.75" y2="399.32" stroke="#8080ff" stroke-width="0.6"/>
<rect x="86.15" y="376.24" width="2.7" height="31.86" fill="#ff0000"/>
<line x1="87.50" y1="376.24" x2="87.50" y2="372.36" stroke="#ff8080" stroke-width="0.6"/>
<line x1="86.60" y1="372.36" x2="88.40" y2="372.36" stroke="#ff8080" stroke-width="0.6"/>
<rect x="89.80" y="365.37" width="2.7" height="42.74" fill="#10c010"/>
<line x1="91.15" y1="365.37" x2="91.15" y2="361.48" stroke="#80e080" stroke-width="0.6"/>
<line x1="90.25" y1="361.48" x2="92.05" y2="361.48" stroke="#80e080" stroke-width="0.6"/>
<rect x="93.45" y="357.98" width="2.7" height="50.12" fill="#9a20e0"/>
<line x1="94.80" y1="357.98" x2="94.80" y2="354.88" stroke="#c890f0" stroke-width="0.6"/>
<line x1="93.90" y1="354.88" x2="95.70" y2="354.88" stroke="#c890f0" stroke-width="0.6"/>
<line x1="105.90" y1="408.1" x2="105.90" y2="410.1" stroke="#111" stroke-width="0.7"/>
<text x="106.10" y="418.10" font-size="5.7" font-weight="bold" fill="#111" stroke="#111" style="stroke-width:0.18px" text-anchor="middle">1:120</text>
<rect x="99.10" y="401.50" width="2.7" height="6.60" fill="#0000ff"/>
<line x1="100.45" y1="401.50" x2="100.45" y2="400.72" stroke="#8080ff" stroke-width="0.6"/>
<line x1="99.55" y1="400.72" x2="101.35" y2="400.72" stroke="#8080ff" stroke-width="0.6"/>
<rect x="102.75" y="374.69" width="2.7" height="33.41" fill="#ff0000"/>
<line x1="104.10" y1="374.69" x2="104.10" y2="373.14" stroke="#ff8080" stroke-width="0.6"/>
<line x1="103.20" y1="373.14" x2="105.00" y2="373.14" stroke="#ff8080" stroke-width="0.6"/>
<rect x="106.40" y="363.81" width="2.7" height="44.29" fill="#10c010"/>
<line x1="107.75" y1="363.81" x2="107.75" y2="360.70" stroke="#80e080" stroke-width="0.6"/>
<line x1="106.85" y1="360.70" x2="108.65" y2="360.70" stroke="#80e080" stroke-width="0.6"/>
<rect x="110.05" y="363.03" width="2.7" height="45.07" fill="#9a20e0"/>
<line x1="111.40" y1="363.03" x2="111.40" y2="361.48" stroke="#c890f0" stroke-width="0.6"/>
<line x1="110.50" y1="361.48" x2="112.30" y2="361.48" stroke="#c890f0" stroke-width="0.6"/>
<line x1="122.50" y1="408.1" x2="122.50" y2="410.1" stroke="#111" stroke-width="0.7"/>
<text x="122.70" y="418.10" font-size="5.7" font-weight="bold" fill="#111" stroke="#111" style="stroke-width:0.18px" text-anchor="middle">1:150</text>
<rect x="115.70" y="403.44" width="2.7" height="4.66" fill="#0000ff"/>
<line x1="117.05" y1="403.44" x2="117.05" y2="402.66" stroke="#8080ff" stroke-width="0.6"/>
<line x1="116.15" y1="402.66" x2="117.95" y2="402.66" stroke="#8080ff" stroke-width="0.6"/>
<rect x="119.35" y="382.46" width="2.7" height="25.64" fill="#ff0000"/>
<line x1="120.70" y1="382.46" x2="120.70" y2="380.91" stroke="#ff8080" stroke-width="0.6"/>
<line x1="119.80" y1="380.91" x2="121.60" y2="380.91" stroke="#ff8080" stroke-width="0.6"/>
<rect x="123.00" y="366.53" width="2.7" height="41.57" fill="#10c010"/>
<line x1="124.35" y1="366.53" x2="124.35" y2="364.20" stroke="#80e080" stroke-width="0.6"/>
<line x1="123.45" y1="364.20" x2="125.25" y2="364.20" stroke="#80e080" stroke-width="0.6"/>
<rect x="126.65" y="371.04" width="2.7" height="37.06" fill="#9a20e0"/>
<line x1="128.00" y1="371.04" x2="128.00" y2="367.93" stroke="#c890f0" stroke-width="0.6"/>
<line x1="127.10" y1="367.93" x2="128.90" y2="367.93" stroke="#c890f0" stroke-width="0.6"/>
<line x1="139.10" y1="408.1" x2="139.10" y2="410.1" stroke="#111" stroke-width="0.7"/>
<text x="139.30" y="418.10" font-size="5.7" font-weight="bold" fill="#111" stroke="#111" style="stroke-width:0.18px" text-anchor="middle">1:180</text>
<rect x="132.30" y="401.50" width="2.7" height="6.60" fill="#0000ff"/>
<line x1="133.65" y1="401.50" x2="133.65" y2="400.72" stroke="#8080ff" stroke-width="0.6"/>
<line x1="132.75" y1="400.72" x2="134.55" y2="400.72" stroke="#8080ff" stroke-width="0.6"/>
<rect x="135.95" y="395.20" width="2.7" height="12.90" fill="#ff0000"/>
<line x1="137.30" y1="395.20" x2="137.30" y2="392.87" stroke="#ff8080" stroke-width="0.6"/>
<line x1="136.40" y1="392.87" x2="138.20" y2="392.87" stroke="#ff8080" stroke-width="0.6"/>
<rect x="139.60" y="374.07" width="2.7" height="34.03" fill="#10c010"/>
<line x1="140.95" y1="374.07" x2="140.95" y2="371.74" stroke="#80e080" stroke-width="0.6"/>
<line x1="140.05" y1="371.74" x2="141.85" y2="371.74" stroke="#80e080" stroke-width="0.6"/>
<rect x="143.25" y="377.49" width="2.7" height="30.61" fill="#9a20e0"/>
<line x1="144.60" y1="377.49" x2="144.60" y2="375.16" stroke="#c890f0" stroke-width="0.6"/>
<line x1="143.70" y1="375.16" x2="145.50" y2="375.16" stroke="#c890f0" stroke-width="0.6"/>
<line x1="155.70" y1="408.1" x2="155.70" y2="410.1" stroke="#111" stroke-width="0.7"/>
<text x="155.90" y="418.10" font-size="5.7" font-weight="bold" fill="#111" stroke="#111" style="stroke-width:0.18px" text-anchor="middle">Mock</text>
<rect x="175.1" y="328.05" width="8.5" height="2.7" fill="#9a20e0"/>
<text x="188.2" y="331.20" font-size="5" fill="#333" stroke="#333" style="stroke-width:0.1px">64h</text>
<rect x="175.1" y="335.38" width="8.5" height="2.7" fill="#10c010"/>
<text x="188.2" y="338.53" font-size="5" fill="#333" stroke="#333" style="stroke-width:0.1px">52h</text>
<rect x="175.1" y="342.71" width="8.5" height="2.7" fill="#ff0000"/>
<text x="188.2" y="345.86" font-size="5" fill="#333" stroke="#333" style="stroke-width:0.1px">40h</text>
<rect x="175.1" y="350.04" width="8.5" height="2.7" fill="#0000ff"/>
<text x="188.2" y="353.19" font-size="5" fill="#333" stroke="#333" style="stroke-width:0.1px">26h</text>
<text transform="translate(310.0,321.0) scale(1,1.12)" x="0" y="0" font-size="7.5" font-weight="bold" fill="#111" stroke="#111" style="stroke-width:0.12px" text-anchor="middle">Pseudotyped Kappa</text>
<text transform="translate(227.0,369.75) rotate(-90)" font-size="5.1" font-weight="bold" fill="#111" stroke="#111" style="stroke-width:0.2px" text-anchor="middle" textLength="86.8" lengthAdjust="spacingAndGlyphs">Pseudovirus infection (RLU)</text>
<line x1="251.9" y1="330.4" x2="251.9" y2="408.59999999999997" stroke="#111" stroke-width="0.8"/>
<line x1="248.9" y1="408.20" x2="251.9" y2="408.20" stroke="#111" stroke-width="0.8"/>
<text x="247.3" y="410.40" font-size="5.8" font-weight="bold" fill="#111" stroke="#111" text-anchor="end">0</text>
<line x1="248.9" y1="388.82" x2="251.9" y2="388.82" stroke="#111" stroke-width="0.8"/>
<text x="247.4" y="389.12" font-size="3.3" font-weight="bold" fill="#111" stroke="#111" text-anchor="end">6</text>
<text x="244.0" y="391.02" font-size="5.8" font-weight="bold" fill="#111" stroke="#111" text-anchor="end" textLength="11.8" lengthAdjust="spacingAndGlyphs">1×10</text>
<line x1="248.9" y1="369.45" x2="251.9" y2="369.45" stroke="#111" stroke-width="0.8"/>
<text x="247.4" y="369.75" font-size="3.3" font-weight="bold" fill="#111" stroke="#111" text-anchor="end">6</text>
<text x="244.0" y="371.65" font-size="5.8" font-weight="bold" fill="#111" stroke="#111" text-anchor="end" textLength="11.8" lengthAdjust="spacingAndGlyphs">2×10</text>
<line x1="248.9" y1="350.07" x2="251.9" y2="350.07" stroke="#111" stroke-width="0.8"/>
<text x="247.4" y="350.38" font-size="3.3" font-weight="bold" fill="#111" stroke="#111" text-anchor="end">6</text>
<text x="244.0" y="352.27" font-size="5.8" font-weight="bold" fill="#111" stroke="#111" text-anchor="end" textLength="11.8" lengthAdjust="spacingAndGlyphs">3×10</text>
<line x1="248.9" y1="330.70" x2="251.9" y2="330.70" stroke="#111" stroke-width="0.8"/>
<text x="247.4" y="331.00" font-size="3.3" font-weight="bold" fill="#111" stroke="#111" text-anchor="end">6</text>
<text x="244.0" y="332.90" font-size="5.8" font-weight="bold" fill="#111" stroke="#111" text-anchor="end" textLength="11.8" lengthAdjust="spacingAndGlyphs">4×10</text>
<line x1="248.70000000000002" y1="408.2" x2="367.9" y2="408.2" stroke="#111" stroke-width="0.8"/>
<line x1="259.50" y1="408.2" x2="259.50" y2="410.2" stroke="#111" stroke-width="0.7"/>
<text x="259.70" y="418.20" font-size="5.7" font-weight="bold" fill="#111" stroke="#111" style="stroke-width:0.18px" text-anchor="middle">1:30</text>
<rect x="252.70" y="398.90" width="2.7" height="9.30" fill="#0000ff"/>
<line x1="254.05" y1="398.90" x2="254.05" y2="397.93" stroke="#8080ff" stroke-width="0.6"/>
<line x1="253.15" y1="397.93" x2="254.95" y2="397.93" stroke="#8080ff" stroke-width="0.6"/>
<rect x="256.35" y="389.99" width="2.7" height="18.21" fill="#ff0000"/>
<line x1="257.70" y1="389.99" x2="257.70" y2="388.44" stroke="#ff8080" stroke-width="0.6"/>
<line x1="256.80" y1="388.44" x2="258.60" y2="388.44" stroke="#ff8080" stroke-width="0.6"/>
<rect x="260.00" y="375.26" width="2.7" height="32.94" fill="#10c010"/>
<line x1="261.35" y1="375.26" x2="261.35" y2="372.36" stroke="#80e080" stroke-width="0.6"/>
<line x1="260.45" y1="372.36" x2="262.25" y2="372.36" stroke="#80e080" stroke-width="0.6"/>
<rect x="263.65" y="392.70" width="2.7" height="15.50" fill="#9a20e0"/>
<line x1="265.00" y1="392.70" x2="265.00" y2="391.73" stroke="#c890f0" stroke-width="0.6"/>
<line x1="264.10" y1="391.73" x2="265.90" y2="391.73" stroke="#c890f0" stroke-width="0.6"/>
<line x1="276.10" y1="408.2" x2="276.10" y2="410.2" stroke="#111" stroke-width="0.7"/>
<text x="276.30" y="418.20" font-size="5.7" font-weight="bold" fill="#111" stroke="#111" style="stroke-width:0.18px" text-anchor="middle">1:60</text>
<rect x="269.30" y="397.74" width="2.7" height="10.46" fill="#0000ff"/>
<line x1="270.65" y1="397.74" x2="270.65" y2="396.77" stroke="#8080ff" stroke-width="0.6"/>
<line x1="269.75" y1="396.77" x2="271.55" y2="396.77" stroke="#8080ff" stroke-width="0.6"/>
<rect x="272.95" y="385.92" width="2.7" height="22.28" fill="#ff0000"/>
<line x1="274.30" y1="385.92" x2="274.30" y2="385.34" stroke="#ff8080" stroke-width="0.6"/>
<line x1="273.40" y1="385.34" x2="275.20" y2="385.34" stroke="#ff8080" stroke-width="0.6"/>
<rect x="276.60" y="365.57" width="2.7" height="42.62" fill="#10c010"/>
<line x1="277.95" y1="365.57" x2="277.95" y2="363.64" stroke="#80e080" stroke-width="0.6"/>
<line x1="277.05" y1="363.64" x2="278.85" y2="363.64" stroke="#80e080" stroke-width="0.6"/>
<rect x="280.25" y="371.58" width="2.7" height="36.62" fill="#9a20e0"/>
<line x1="281.60" y1="371.58" x2="281.60" y2="370.61" stroke="#c890f0" stroke-width="0.6"/>
<line x1="280.70" y1="370.61" x2="282.50" y2="370.61" stroke="#c890f0" stroke-width="0.6"/>
<line x1="292.70" y1="408.2" x2="292.70" y2="410.2" stroke="#111" stroke-width="0.7"/>
<text x="292.90" y="418.20" font-size="5.7" font-weight="bold" fill="#111" stroke="#111" style="stroke-width:0.18px" text-anchor="middle">1:90</text>
<rect x="285.90" y="396.38" width="2.7" height="11.82" fill="#0000ff"/>
<line x1="287.25" y1="396.38" x2="287.25" y2="395.80" stroke="#8080ff" stroke-width="0.6"/>
<line x1="286.35" y1="395.80" x2="288.15" y2="395.80" stroke="#8080ff" stroke-width="0.6"/>
<rect x="289.55" y="382.04" width="2.7" height="26.16" fill="#ff0000"/>
<line x1="290.90" y1="382.04" x2="290.90" y2="379.14" stroke="#ff8080" stroke-width="0.6"/>
<line x1="290.00" y1="379.14" x2="291.80" y2="379.14" stroke="#ff8080" stroke-width="0.6"/>
<rect x="293.20" y="356.08" width="2.7" height="52.12" fill="#10c010"/>
<line x1="294.55" y1="356.08" x2="294.55" y2="346.39" stroke="#80e080" stroke-width="0.6"/>
<line x1="293.65" y1="346.39" x2="295.45" y2="346.39" stroke="#80e080" stroke-width="0.6"/>
<rect x="296.85" y="367.71" width="2.7" height="40.49" fill="#9a20e0"/>
<line x1="298.20" y1="367.71" x2="298.20" y2="361.89" stroke="#c890f0" stroke-width="0.6"/>
<line x1="297.30" y1="361.89" x2="299.10" y2="361.89" stroke="#c890f0" stroke-width="0.6"/>
<line x1="309.30" y1="408.2" x2="309.30" y2="410.2" stroke="#111" stroke-width="0.7"/>
<text x="309.50" y="418.20" font-size="5.7" font-weight="bold" fill="#111" stroke="#111" style="stroke-width:0.18px" text-anchor="middle">1:120</text>
<rect x="302.50" y="402.00" width="2.7" height="6.20" fill="#0000ff"/>
<line x1="303.85" y1="402.00" x2="303.85" y2="401.42" stroke="#8080ff" stroke-width="0.6"/>
<line x1="302.95" y1="401.42" x2="304.75" y2="401.42" stroke="#8080ff" stroke-width="0.6"/>
<rect x="306.15" y="391.93" width="2.7" height="16.27" fill="#ff0000"/>
<line x1="307.50" y1="391.93" x2="307.50" y2="390.96" stroke="#ff8080" stroke-width="0.6"/>
<line x1="306.60" y1="390.96" x2="308.40" y2="390.96" stroke="#ff8080" stroke-width="0.6"/>
<rect x="309.80" y="371.19" width="2.7" height="37.01" fill="#10c010"/>
<line x1="311.15" y1="371.19" x2="311.15" y2="369.26" stroke="#80e080" stroke-width="0.6"/>
<line x1="310.25" y1="369.26" x2="312.05" y2="369.26" stroke="#80e080" stroke-width="0.6"/>
<rect x="313.45" y="370.42" width="2.7" height="37.78" fill="#9a20e0"/>
<line x1="314.80" y1="370.42" x2="314.80" y2="367.51" stroke="#c890f0" stroke-width="0.6"/>
<line x1="313.90" y1="367.51" x2="315.70" y2="367.51" stroke="#c890f0" stroke-width="0.6"/>
<line x1="325.90" y1="408.2" x2="325.90" y2="410.2" stroke="#111" stroke-width="0.7"/>
<text x="326.10" y="418.20" font-size="5.7" font-weight="bold" fill="#111" stroke="#111" style="stroke-width:0.18px" text-anchor="middle">1:150</text>
<rect x="319.10" y="402.58" width="2.7" height="5.62" fill="#0000ff"/>
<line x1="320.45" y1="402.58" x2="320.45" y2="402.00" stroke="#8080ff" stroke-width="0.6"/>
<line x1="319.55" y1="402.00" x2="321.35" y2="402.00" stroke="#8080ff" stroke-width="0.6"/>
<rect x="322.75" y="395.02" width="2.7" height="13.18" fill="#ff0000"/>
<line x1="324.10" y1="395.02" x2="324.10" y2="394.06" stroke="#ff8080" stroke-width="0.6"/>
<line x1="323.20" y1="394.06" x2="325.00" y2="394.06" stroke="#ff8080" stroke-width="0.6"/>
<rect x="326.40" y="376.04" width="2.7" height="32.16" fill="#10c010"/>
<line x1="327.75" y1="376.04" x2="327.75" y2="374.49" stroke="#80e080" stroke-width="0.6"/>
<line x1="326.85" y1="374.49" x2="328.65" y2="374.49" stroke="#80e080" stroke-width="0.6"/>
<rect x="330.05" y="379.52" width="2.7" height="28.68" fill="#9a20e0"/>
<line x1="331.40" y1="379.52" x2="331.40" y2="377.59" stroke="#c890f0" stroke-width="0.6"/>
<line x1="330.50" y1="377.59" x2="332.30" y2="377.59" stroke="#c890f0" stroke-width="0.6"/>
<line x1="342.50" y1="408.2" x2="342.50" y2="410.2" stroke="#111" stroke-width="0.7"/>
<text x="342.70" y="418.20" font-size="5.7" font-weight="bold" fill="#111" stroke="#111" style="stroke-width:0.18px" text-anchor="middle">1:180</text>
<rect x="335.70" y="404.52" width="2.7" height="3.68" fill="#0000ff"/>
<line x1="337.05" y1="404.52" x2="337.05" y2="403.94" stroke="#8080ff" stroke-width="0.6"/>
<line x1="336.15" y1="403.94" x2="337.95" y2="403.94" stroke="#8080ff" stroke-width="0.6"/>
<rect x="339.35" y="396.57" width="2.7" height="11.62" fill="#ff0000"/>
<line x1="340.70" y1="396.57" x2="340.70" y2="394.64" stroke="#ff8080" stroke-width="0.6"/>
<line x1="339.80" y1="394.64" x2="341.60" y2="394.64" stroke="#ff8080" stroke-width="0.6"/>
<rect x="343.00" y="384.95" width="2.7" height="23.25" fill="#10c010"/>
<line x1="344.35" y1="384.95" x2="344.35" y2="383.01" stroke="#80e080" stroke-width="0.6"/>
<line x1="343.45" y1="383.01" x2="345.25" y2="383.01" stroke="#80e080" stroke-width="0.6"/>
<rect x="346.65" y="393.47" width="2.7" height="14.72" fill="#9a20e0"/>
<line x1="348.00" y1="393.47" x2="348.00" y2="391.54" stroke="#c890f0" stroke-width="0.6"/>
<line x1="347.10" y1="391.54" x2="348.90" y2="391.54" stroke="#c890f0" stroke-width="0.6"/>
<line x1="359.10" y1="408.2" x2="359.10" y2="410.2" stroke="#111" stroke-width="0.7"/>
<text x="359.30" y="418.20" font-size="5.7" font-weight="bold" fill="#111" stroke="#111" style="stroke-width:0.18px" text-anchor="middle">Mock</text>
<rect x="378.5" y="328.05" width="8.5" height="2.7" fill="#9a20e0"/>
<text x="391.6" y="331.20" font-size="5" fill="#333" stroke="#333" style="stroke-width:0.1px">64h</text>
<rect x="378.5" y="335.38" width="8.5" height="2.7" fill="#10c010"/>
<text x="391.6" y="338.53" font-size="5" fill="#333" stroke="#333" style="stroke-width:0.1px">52h</text>
<rect x="378.5" y="342.71" width="8.5" height="2.7" fill="#ff0000"/>
<text x="391.6" y="345.86" font-size="5" fill="#333" stroke="#333" style="stroke-width:0.1px">40h</text>
<rect x="378.5" y="350.04" width="8.5" height="2.7" fill="#0000ff"/>
<text x="391.6" y="353.19" font-size="5" fill="#333" stroke="#333" style="stroke-width:0.1px">26h</text>
<text transform="translate(109.0,444.5) scale(1,1.06)" x="0" y="0" font-size="7.45" font-weight="bold" fill="#111" stroke="#111" style="stroke-width:0.12px" text-anchor="middle">Pseudotyped Omicron</text>
<text transform="translate(24.9,493.75) rotate(-90)" font-size="5.1" font-weight="bold" fill="#111" stroke="#111" style="stroke-width:0.2px" text-anchor="middle" textLength="86.8" lengthAdjust="spacingAndGlyphs">Pseudovirus infection (RLU)</text>
<line x1="51.0" y1="454.59999999999997" x2="51.0" y2="532.4" stroke="#111" stroke-width="0.8"/>
<line x1="48.0" y1="532.00" x2="51.0" y2="532.00" stroke="#111" stroke-width="0.8"/>
<text x="46.4" y="534.20" font-size="5.8" font-weight="bold" fill="#111" stroke="#111" text-anchor="end">0</text>
<line x1="48.0" y1="512.73" x2="51.0" y2="512.73" stroke="#111" stroke-width="0.8"/>
<text x="46.5" y="513.02" font-size="3.3" font-weight="bold" fill="#111" stroke="#111" text-anchor="end">5</text>
<text x="43.1" y="514.93" font-size="5.8" font-weight="bold" fill="#111" stroke="#111" text-anchor="end" textLength="11.8" lengthAdjust="spacingAndGlyphs">5×10</text>
<line x1="48.0" y1="493.45" x2="51.0" y2="493.45" stroke="#111" stroke-width="0.8"/>
<text x="46.5" y="493.75" font-size="3.3" font-weight="bold" fill="#111" stroke="#111" text-anchor="end">6</text>
<text x="43.1" y="495.65" font-size="5.8" font-weight="bold" fill="#111" stroke="#111" text-anchor="end" textLength="11.8" lengthAdjust="spacingAndGlyphs">1×10</text>
<line x1="48.0" y1="474.18" x2="51.0" y2="474.18" stroke="#111" stroke-width="0.8"/>
<text x="46.5" y="474.48" font-size="3.3" font-weight="bold" fill="#111" stroke="#111" text-anchor="end">6</text>
<text x="43.1" y="476.38" font-size="5.8" font-weight="bold" fill="#111" stroke="#111" text-anchor="end" textLength="16.4" lengthAdjust="spacingAndGlyphs">1.5×10</text>
<line x1="48.0" y1="454.90" x2="51.0" y2="454.90" stroke="#111" stroke-width="0.8"/>
<text x="46.5" y="455.20" font-size="3.3" font-weight="bold" fill="#111" stroke="#111" text-anchor="end">6</text>
<text x="43.1" y="457.10" font-size="5.8" font-weight="bold" fill="#111" stroke="#111" text-anchor="end" textLength="11.8" lengthAdjust="spacingAndGlyphs">2×10</text>
<line x1="47.8" y1="532.0" x2="167.0" y2="532.0" stroke="#111" stroke-width="0.8"/>
<line x1="58.60" y1="532.0" x2="58.60" y2="534.0" stroke="#111" stroke-width="0.7"/>
<text x="58.80" y="542.00" font-size="5.7" font-weight="bold" fill="#111" stroke="#111" style="stroke-width:0.18px" text-anchor="middle">1:30</text>
<rect x="51.80" y="531.61" width="2.7" height="0.39" fill="#0000ff"/>
<rect x="55.45" y="525.45" width="2.7" height="6.55" fill="#ff0000"/>
<line x1="56.80" y1="525.45" x2="56.80" y2="523.52" stroke="#ff8080" stroke-width="0.6"/>
<line x1="55.90" y1="523.52" x2="57.70" y2="523.52" stroke="#ff8080" stroke-width="0.6"/>
<rect x="59.10" y="520.82" width="2.7" height="11.18" fill="#10c010"/>
<line x1="60.45" y1="520.82" x2="60.45" y2="519.66" stroke="#80e080" stroke-width="0.6"/>
<line x1="59.55" y1="519.66" x2="61.35" y2="519.66" stroke="#80e080" stroke-width="0.6"/>
<rect x="62.75" y="516.58" width="2.7" height="15.42" fill="#9a20e0"/>
<line x1="64.10" y1="516.58" x2="64.10" y2="514.65" stroke="#c890f0" stroke-width="0.6"/>
<line x1="63.20" y1="514.65" x2="65.00" y2="514.65" stroke="#c890f0" stroke-width="0.6"/>
<line x1="75.20" y1="532.0" x2="75.20" y2="534.0" stroke="#111" stroke-width="0.7"/>
<text x="75.40" y="542.00" font-size="5.7" font-weight="bold" fill="#111" stroke="#111" style="stroke-width:0.18px" text-anchor="middle">1:60</text>
<rect x="68.40" y="531.61" width="2.7" height="0.39" fill="#0000ff"/>
<rect x="72.05" y="518.51" width="2.7" height="13.49" fill="#ff0000"/>
<line x1="73.40" y1="518.51" x2="73.40" y2="516.58" stroke="#ff8080" stroke-width="0.6"/>
<line x1="72.50" y1="516.58" x2="74.30" y2="516.58" stroke="#ff8080" stroke-width="0.6"/>
<rect x="75.70" y="515.81" width="2.7" height="16.19" fill="#10c010"/>
<line x1="77.05" y1="515.81" x2="77.05" y2="511.95" stroke="#80e080" stroke-width="0.6"/>
<line x1="76.15" y1="511.95" x2="77.95" y2="511.95" stroke="#80e080" stroke-width="0.6"/>
<rect x="79.35" y="507.71" width="2.7" height="24.29" fill="#9a20e0"/>
<line x1="80.70" y1="507.71" x2="80.70" y2="505.79" stroke="#c890f0" stroke-width="0.6"/>
<line x1="79.80" y1="505.79" x2="81.60" y2="505.79" stroke="#c890f0" stroke-width="0.6"/>
<line x1="91.80" y1="532.0" x2="91.80" y2="534.0" stroke="#111" stroke-width="0.7"/>
<text x="92.00" y="542.00" font-size="5.7" font-weight="bold" fill="#111" stroke="#111" style="stroke-width:0.18px" text-anchor="middle">1:90</text>
<rect x="85.00" y="530.84" width="2.7" height="1.16" fill="#0000ff"/>
<rect x="88.65" y="514.65" width="2.7" height="17.35" fill="#ff0000"/>
<line x1="90.00" y1="514.65" x2="90.00" y2="510.80" stroke="#ff8080" stroke-width="0.6"/>
<line x1="89.10" y1="510.80" x2="90.90" y2="510.80" stroke="#ff8080" stroke-width="0.6"/>
<rect x="92.30" y="511.95" width="2.7" height="20.05" fill="#10c010"/>
<line x1="93.65" y1="511.95" x2="93.65" y2="506.17" stroke="#80e080" stroke-width="0.6"/>
<line x1="92.75" y1="506.17" x2="94.55" y2="506.17" stroke="#80e080" stroke-width="0.6"/>
<rect x="95.95" y="491.52" width="2.7" height="40.48" fill="#9a20e0"/>
<line x1="97.30" y1="491.52" x2="97.30" y2="485.74" stroke="#c890f0" stroke-width="0.6"/>
<line x1="96.40" y1="485.74" x2="98.20" y2="485.74" stroke="#c890f0" stroke-width="0.6"/>
<line x1="108.40" y1="532.0" x2="108.40" y2="534.0" stroke="#111" stroke-width="0.7"/>
<text x="108.60" y="542.00" font-size="5.7" font-weight="bold" fill="#111" stroke="#111" style="stroke-width:0.18px" text-anchor="middle">1:120</text>
<rect x="101.60" y="531.61" width="2.7" height="0.39" fill="#0000ff"/>
<rect x="105.25" y="513.50" width="2.7" height="18.50" fill="#ff0000"/>
<line x1="106.60" y1="513.50" x2="106.60" y2="511.57" stroke="#ff8080" stroke-width="0.6"/>
<line x1="105.70" y1="511.57" x2="107.50" y2="511.57" stroke="#ff8080" stroke-width="0.6"/>
<rect x="108.90" y="510.80" width="2.7" height="21.20" fill="#10c010"/>
<line x1="110.25" y1="510.80" x2="110.25" y2="506.94" stroke="#80e080" stroke-width="0.6"/>
<line x1="109.35" y1="506.94" x2="111.15" y2="506.94" stroke="#80e080" stroke-width="0.6"/>
<rect x="112.55" y="496.53" width="2.7" height="35.47" fill="#9a20e0"/>
<line x1="113.90" y1="496.53" x2="113.90" y2="490.75" stroke="#c890f0" stroke-width="0.6"/>
<line x1="113.00" y1="490.75" x2="114.80" y2="490.75" stroke="#c890f0" stroke-width="0.6"/>
<line x1="125.00" y1="532.0" x2="125.00" y2="534.0" stroke="#111" stroke-width="0.7"/>
<text x="125.20" y="542.00" font-size="5.7" font-weight="bold" fill="#111" stroke="#111" style="stroke-width:0.18px" text-anchor="middle">1:150</text>
<rect x="118.20" y="531.23" width="2.7" height="0.77" fill="#0000ff"/>
<rect x="121.85" y="512.73" width="2.7" height="19.28" fill="#ff0000"/>
<line x1="123.20" y1="512.73" x2="123.20" y2="509.64" stroke="#ff8080" stroke-width="0.6"/>
<line x1="122.30" y1="509.64" x2="124.10" y2="509.64" stroke="#ff8080" stroke-width="0.6"/>
<rect x="125.50" y="498.46" width="2.7" height="33.54" fill="#10c010"/>
<line x1="126.85" y1="498.46" x2="126.85" y2="492.68" stroke="#80e080" stroke-width="0.6"/>
<line x1="125.95" y1="492.68" x2="127.75" y2="492.68" stroke="#80e080" stroke-width="0.6"/>
<rect x="129.15" y="470.32" width="2.7" height="61.68" fill="#9a20e0"/>
<line x1="130.50" y1="470.32" x2="130.50" y2="468.39" stroke="#c890f0" stroke-width="0.6"/>
<line x1="129.60" y1="468.39" x2="131.40" y2="468.39" stroke="#c890f0" stroke-width="0.6"/>
<line x1="141.60" y1="532.0" x2="141.60" y2="534.0" stroke="#111" stroke-width="0.7"/>
<text x="141.80" y="542.00" font-size="5.7" font-weight="bold" fill="#111" stroke="#111" style="stroke-width:0.18px" text-anchor="middle">1:180</text>
<rect x="134.80" y="531.61" width="2.7" height="0.39" fill="#0000ff"/>
<rect x="138.45" y="509.64" width="2.7" height="22.36" fill="#ff0000"/>
<line x1="139.80" y1="509.64" x2="139.80" y2="505.79" stroke="#ff8080" stroke-width="0.6"/>
<line x1="138.90" y1="505.79" x2="140.70" y2="505.79" stroke="#ff8080" stroke-width="0.6"/>
<rect x="142.10" y="505.79" width="2.7" height="26.21" fill="#10c010"/>
<line x1="143.45" y1="505.79" x2="143.45" y2="501.93" stroke="#80e080" stroke-width="0.6"/>
<line x1="142.55" y1="501.93" x2="144.35" y2="501.93" stroke="#80e080" stroke-width="0.6"/>
<rect x="145.75" y="489.59" width="2.7" height="42.41" fill="#9a20e0"/>
<line x1="147.10" y1="489.59" x2="147.10" y2="486.51" stroke="#c890f0" stroke-width="0.6"/>
<line x1="146.20" y1="486.51" x2="148.00" y2="486.51" stroke="#c890f0" stroke-width="0.6"/>
<line x1="158.20" y1="532.0" x2="158.20" y2="534.0" stroke="#111" stroke-width="0.7"/>
<text x="158.40" y="542.00" font-size="5.7" font-weight="bold" fill="#111" stroke="#111" style="stroke-width:0.18px" text-anchor="middle">Mock</text>
<rect x="177.0" y="452.05" width="8.5" height="2.7" fill="#9a20e0"/>
<text x="190.1" y="455.20" font-size="5" fill="#333" stroke="#333" style="stroke-width:0.1px">59h</text>
<rect x="177.0" y="459.38" width="8.5" height="2.7" fill="#10c010"/>
<text x="190.1" y="462.53" font-size="5" fill="#333" stroke="#333" style="stroke-width:0.1px">46h</text>
<rect x="177.0" y="466.71" width="8.5" height="2.7" fill="#ff0000"/>
<text x="190.1" y="469.86" font-size="5" fill="#333" stroke="#333" style="stroke-width:0.1px">35h</text>
<rect x="177.0" y="474.04" width="8.5" height="2.7" fill="#0000ff"/>
<text x="190.1" y="477.19" font-size="5" fill="#333" stroke="#333" style="stroke-width:0.1px">21h</text>
<rect x="151.4" y="531.2" width="2.7" height="0.8" fill="#0000ff"/>
</svg>
</body></html>
